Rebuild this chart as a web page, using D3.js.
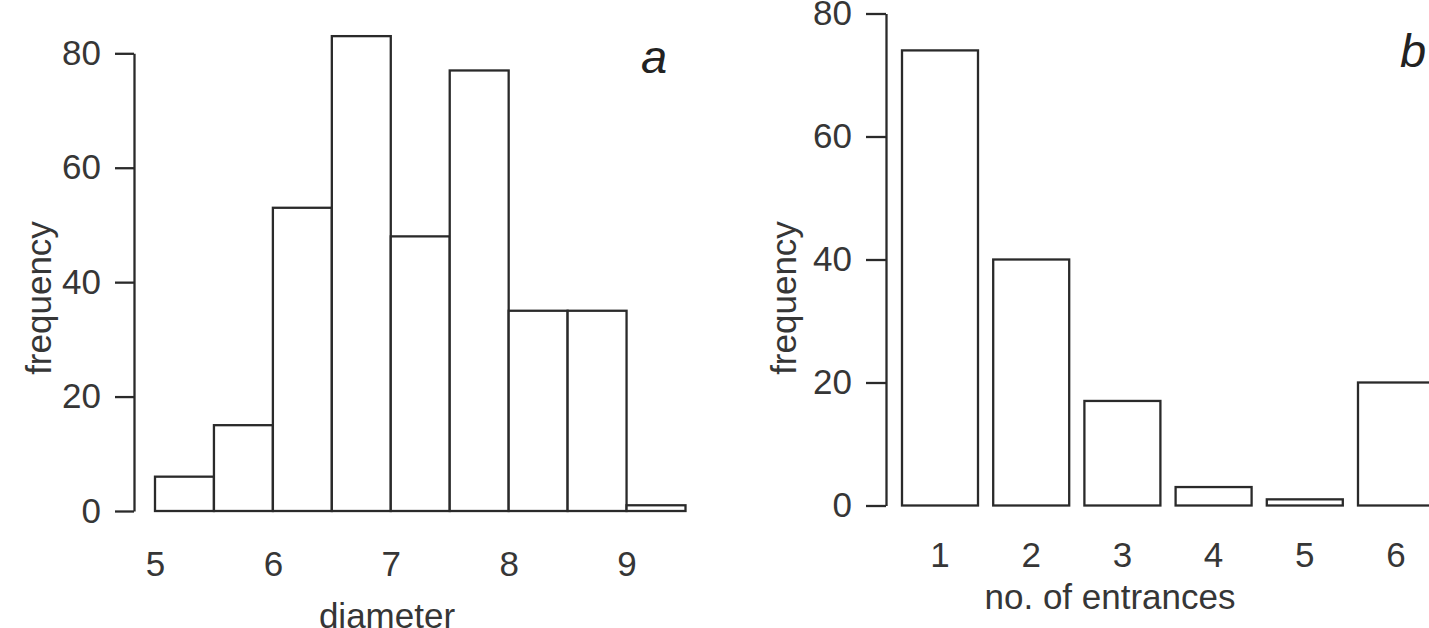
<!DOCTYPE html>
<html>
<head>
<meta charset="utf-8">
<script src="https://cdn.jsdelivr.net/npm/d3@7"></script>
<style>
  html, body { margin: 0; padding: 0; background: #fff; }
  svg { display: block; }
</style>
</head>
<body>
<svg id="chart" width="1429" height="628"></svg>
<script>
// ---------------- data ----------------
const diamBinStarts = [5, 5.5, 6, 6.5, 7, 7.5, 8, 8.5, 9];
const diamBinWidth = 0.5;
const diamFreq = [6, 15, 53, 83, 48, 77, 35, 35, 1];
const diamTicks = [5, 6, 7, 8, 9];
const freqTicks = [0, 20, 40, 60, 80];
const entranceCats = ["1", "2", "3", "4", "5", "6"];
const entranceFreq = [74, 40, 17, 3, 1, 20];

// ---------------- style ----------------
const INK = "#2a2a2a";
const TXT = "#363636";
const FONT = "'Liberation Sans', Arial, Helvetica, sans-serif";
const FS = 35;

const svg = d3.select("#chart");
svg.append("rect").attr("width", 1429).attr("height", 628).attr("fill", "#fff");

function styleAxis(g) {
  g.attr("font-family", FONT).attr("font-size", FS);
  g.selectAll("text").attr("fill", TXT);
  g.selectAll("line").attr("stroke", INK).attr("stroke-width", 2.3);
  g.selectAll("path.domain").attr("stroke", INK).attr("stroke-width", 2.3);
}

// ---------------- panel a ----------------
const xA = d3.scaleLinear().domain([5, 9.5]).range([155, 685.5]);
const yA = d3.scaleLinear().domain([0, 80]).range([511, 53.3]);
const axisXA = 134;

const gA = svg.append("g");
gA.selectAll("rect.bar")
  .data(diamBinStarts.map((s, i) => ({ s, v: diamFreq[i] })))
  .join("rect")
  .attr("class", "bar")
  .attr("x", d => xA(d.s))
  .attr("width", d => xA(d.s + diamBinWidth) - xA(d.s))
  .attr("y", d => yA(d.v))
  .attr("height", d => yA(0) - yA(d.v))
  .attr("fill", "#fff")
  .attr("stroke", INK)
  .attr("stroke-width", 2.3);

gA.append("g")
  .attr("transform", `translate(${axisXA},0)`)
  .call(d3.axisLeft(yA).tickValues(freqTicks).tickSize(19).tickSizeOuter(0).tickPadding(14))
  .call(styleAxis);

const xAxisA = gA.append("g")
  .attr("transform", `translate(0,${yA(0)})`)
  .call(d3.axisBottom(xA).tickValues(diamTicks).tickSize(0).tickPadding(40).tickFormat(d3.format("d")))
  .call(styleAxis);
xAxisA.select("path.domain").remove();

gA.append("text")
  .attr("transform", `translate(51,298) rotate(-90)`)
  .attr("text-anchor", "middle")
  .attr("font-family", FONT).attr("font-size", FS).attr("fill", TXT)
  .text("frequency");

gA.append("text")
  .attr("x", 387).attr("y", 628)
  .attr("text-anchor", "middle")
  .attr("font-family", FONT).attr("font-size", FS).attr("fill", TXT)
  .text("diameter");

gA.append("text")
  .attr("x", 654).attr("y", 73)
  .attr("text-anchor", "middle")
  .attr("font-family", FONT).attr("font-size", 47).attr("font-style", "italic").attr("fill", "#222")
  .text("a");

// ---------------- panel b ----------------
const xB = d3.scaleBand().domain(entranceCats).range([886.8, 1449.2]).paddingInner(1 / 6).paddingOuter(1 / 6);
const yB = d3.scaleLinear().domain([0, 80]).range([505.5, 13.5]);
const axisXB = 886;

const gB = svg.append("g");
gB.selectAll("rect.bar")
  .data(entranceCats.map((c, i) => ({ c, v: entranceFreq[i] })))
  .join("rect")
  .attr("class", "bar")
  .attr("x", d => xB(d.c))
  .attr("width", xB.bandwidth())
  .attr("y", d => yB(d.v))
  .attr("height", d => yB(0) - yB(d.v))
  .attr("fill", "#fff")
  .attr("stroke", INK)
  .attr("stroke-width", 2.3);

gB.append("g")
  .attr("transform", `translate(${axisXB},0)`)
  .call(d3.axisLeft(yB).tickValues(freqTicks).tickSize(20).tickSizeOuter(0).tickPadding(14))
  .call(styleAxis);

const xAxisB = gB.append("g")
  .attr("transform", `translate(0,${yB(0)})`)
  .call(d3.axisBottom(xB).tickSize(0).tickPadding(37))
  .call(styleAxis);
xAxisB.select("path.domain").remove();

gB.append("text")
  .attr("transform", `translate(796,298) rotate(-90)`)
  .attr("text-anchor", "middle")
  .attr("font-family", FONT).attr("font-size", FS).attr("fill", TXT)
  .text("frequency");

gB.append("text")
  .attr("x", 1110).attr("y", 609)
  .attr("text-anchor", "middle")
  .attr("font-family", FONT).attr("font-size", FS).attr("fill", TXT)
  .text("no. of entrances");

gB.append("text")
  .attr("x", 1413).attr("y", 67)
  .attr("text-anchor", "middle")
  .attr("font-family", FONT).attr("font-size", 47).attr("font-style", "italic").attr("fill", "#222")
  .text("b");
</script>
</body>
</html>
